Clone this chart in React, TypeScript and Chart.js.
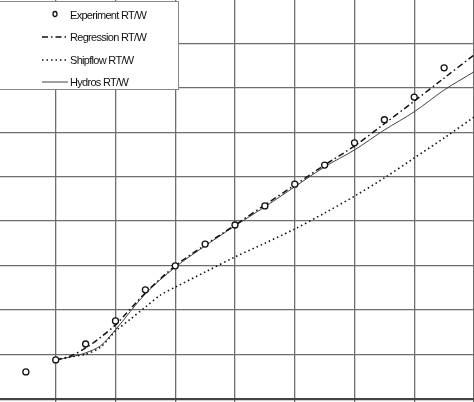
import React, { useEffect, useRef } from "react";
import { Chart, registerables } from "chart.js";

Chart.register(...registerables);

// x positions (speed units) and values
const expX = [0.5, 1.0, 1.5, 2.0, 2.5, 3.0, 3.5, 4.0, 4.5, 5.0, 5.5, 6.0, 6.5, 7.0, 7.5];
const expY = [0.6, 0.87, 1.23, 1.75, 2.45, 2.99, 3.48, 3.91, 4.34, 4.83, 5.26, 5.76, 6.28, 6.79, 7.45];

const regX = [1.0, 1.25, 1.5, 1.75, 2.0, 2.5, 3.0, 3.5, 4.0, 4.5, 5.0, 5.5, 6.0, 6.5, 7.0, 7.5, 8.0];
const regY = [0.87, 0.96, 1.14, 1.38, 1.66, 2.38, 2.99, 3.46, 3.91, 4.36, 4.81, 5.26, 5.69, 6.19, 6.7, 7.22, 7.74];

const shipX = [1.0, 1.25, 1.5, 1.75, 2.0, 2.25, 2.5, 2.75, 3.0, 3.5, 4.0, 4.5, 5.0, 5.5, 6.0, 6.5, 7.0, 7.5, 8.0];
const shipY = [0.87, 0.94, 1.0, 1.16, 1.52, 1.79, 2.06, 2.33, 2.51, 2.85, 3.19, 3.5, 3.82, 4.18, 4.56, 4.97, 5.42, 5.87, 6.34];

const hydX = [1.0, 1.25, 1.5, 1.75, 2.0, 2.5, 3.0, 3.5, 4.0, 4.5, 5.0, 5.5, 6.0, 6.5, 7.0, 7.5, 8.0];
const hydY = [0.87, 0.94, 1.03, 1.19, 1.55, 2.36, 2.96, 3.44, 3.89, 4.32, 4.77, 5.22, 5.6, 6.05, 6.46, 6.95, 7.36];

const labels = ["Experiment RT/W", "Regression RT/W", "Shipflow RT/W", "Hydros RT/W"];

const pts = (xs: number[], ys: number[]) => xs.map((x, i) => ({ x, y: ys[i] }));

const legendPlugin = {
  id: "innerLegend",
  afterDraw(chart: any) {
    const ctx = chart.ctx as CanvasRenderingContext2D;
    ctx.save();
    // canvas is offset by (-4,-1) from the page
    const ox = 4, oy = 1;
    ctx.fillStyle = "#ffffff";
    ctx.fillRect(ox - 4, oy + 1, 182, 88);
    ctx.strokeStyle = "#888";
    ctx.lineWidth = 1;
    ctx.strokeRect(ox - 4 + 0.5, oy + 1.5, 182, 88);
    const rows = [15, 37, 60, 82];
    ctx.font = "11px 'Liberation Sans', Arial, sans-serif";
    (ctx as any).letterSpacing = "-0.7px";
    ctx.textBaseline = "middle";
    ctx.fillStyle = "#111";
    rows.forEach((ry, i) => {
      const y = ry + oy;
      ctx.fillText(labels[i], 70 + ox, y + 1);
      ctx.strokeStyle = i === 3 ? "#444" : "#111";
      if (i === 0) {
        ctx.lineWidth = 1.3;
        ctx.beginPath();
        ctx.ellipse(55 + ox, y - 1, 2, 2.5, 0, 0, Math.PI * 2);
        ctx.stroke();
      } else {
        ctx.lineWidth = i === 3 ? 1 : 1.5;
        ctx.setLineDash(i === 1 ? [6, 3, 1.5, 3] : i === 2 ? [1.5, 3] : []);
        ctx.beginPath();
        ctx.moveTo(42 + ox, y);
        ctx.lineTo(68 + ox, y);
        ctx.stroke();
        ctx.setLineDash([]);
      }
    });
    ctx.restore();
  },
};

export default function App() {
  const ref = useRef<HTMLCanvasElement | null>(null);
  useEffect(() => {
    if (!ref.current) return;
    const chart = new Chart(ref.current, {
      type: "scatter",
      data: {
        datasets: [
          {
            label: labels[0],
            data: pts(expX, expY),
            showLine: false,
            pointRadius: 3,
            pointBorderWidth: 1.3,
            pointBorderColor: "#111",
            pointBackgroundColor: "#fff",
          },
          {
            label: labels[1],
            data: pts(regX, regY),
            showLine: true,
            borderColor: "#111",
            borderWidth: 1.5,
            borderDash: [6, 3, 1.5, 3],
            pointRadius: 0,
            tension: 0.3,
          },
          {
            label: labels[2],
            data: pts(shipX, shipY),
            showLine: true,
            borderColor: "#111",
            borderWidth: 1.6,
            borderDash: [1.5, 3],
            pointRadius: 0,
            tension: 0.3,
          },
          {
            label: labels[3],
            data: pts(hydX, hydY),
            showLine: true,
            borderColor: "#444",
            borderWidth: 1,
            pointRadius: 0,
            tension: 0.3,
          },
        ],
      },
      options: {
        animation: false,
        responsive: false,
        devicePixelRatio: 1,
        layout: { padding: 0, autoPadding: false },
        plugins: { legend: { display: false }, tooltip: { enabled: false } },
        scales: {
          x: {
            type: "linear",
            min: 0,
            max: 8,
            afterFit: (s: any) => { s.height = 0; },
            ticks: { display: false, stepSize: 1 },
            border: { display: false },
            grid: { drawTicks: false, color: "#6e6e6e", lineWidth: 1.3 },
          },
          y: {
            type: "linear",
            min: -1,
            max: 9,
            afterFit: (s: any) => { s.width = 0; },
            ticks: { display: false, stepSize: 1 },
            border: { display: false },
            grid: {
              drawTicks: false,
              color: (c: any) => (c.tick && c.tick.value === 0 ? "#444" : "#6e6e6e"),
              lineWidth: (c: any) => (c.tick && c.tick.value === 0 ? 2.2 : 1.3),
            },
          },
        },
      },
      plugins: [legendPlugin],
    });
    return () => chart.destroy();
  }, []);
  return (
    <div style={{ position: "fixed", left: -4, top: -1, width: 478, height: 444, background: "#fff" }}>
      <canvas ref={ref} width={478} height={444} style={{ display: "block" }} />
    </div>
  );
}
